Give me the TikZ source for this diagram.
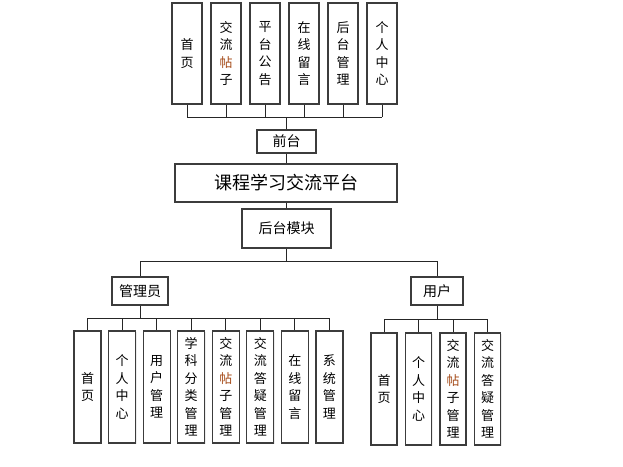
\documentclass[tikz,border=0pt]{standalone}
\usepackage{fontspec}
\setmainfont{Noto Sans CJK SC}
\usetikzlibrary{shadows}

\definecolor{boxline}{RGB}{60,60,60}
\definecolor{tiebrown}{RGB}{165,75,25}
\newcommand{\tiezi}{\textcolor{tiebrown}{帖}}

\tikzset{
  mod/.style={draw=boxline, line width=1.1pt, fill=white, inner sep=0pt, align=center,
    drop shadow={opacity=0.15, shadow xshift=1pt, shadow yshift=-1pt}},
  leaf/.style={mod, font=\fontsize{13}{17.5}\selectfont},
  wire/.style={line width=1pt, black!85}
}

\begin{document}
\begin{tikzpicture}[x=1pt,y=-1pt]
\useasboundingbox (0,0) rectangle (623,466);

% front modules
\foreach \i/\txt in {1/{首\\页},2/{交\\流\\\tiezi\\子},3/{平\\台\\公\\告},4/{在\\线\\留\\言},5/{后\\台\\管\\理},6/{个\\人\\中\\心}}
  \node[leaf, minimum width=30pt, minimum height=101pt] (f\i) at ({187+39*(\i-1)},53.5) {\txt};

\node[mod, font=\fontsize{14}{16}\selectfont, minimum width=59pt, minimum height=23pt] (front) at (286.5,141.5) {前台};
\node[mod, font=\fontsize{18}{20}\selectfont, minimum width=222pt, minimum height=38pt] (sys) at (286,183) {课程学习交流平台};
\node[mod, font=\fontsize{14}{16}\selectfont, minimum width=89pt, minimum height=39pt] (back) at (286.5,228.5) {后台模块};

\node[mod, font=\fontsize{14}{16}\selectfont, minimum width=56pt, minimum height=28pt] (admin) at (140,291) {管理员};
\node[mod, font=\fontsize{14}{16}\selectfont, minimum width=52pt, minimum height=28pt] (user) at (437,291) {用户};

% admin modules
\foreach \i/\txt in {1/{首\\页},2/{个\\人\\中\\心},3/{用\\户\\管\\理},4/{学\\科\\分\\类\\管\\理},5/{交\\流\\\tiezi\\子\\管\\理},6/{交\\流\\答\\疑\\管\\理},7/{在\\线\\留\\言},8/{系\\统\\管\\理}}
  \node[leaf, minimum width=27pt, minimum height=112pt] (a\i) at ({87.5+34.57*(\i-1)},387) {\txt};

% user modules
\foreach \i/\txt in {1/{首\\页},2/{个\\人\\中\\心},3/{交\\流\\\tiezi\\子\\管\\理},4/{交\\流\\答\\疑\\管\\理}}
  \node[leaf, minimum width=26pt, minimum height=112pt] (u\i) at ({384+34.5*(\i-1)},389) {\txt};

% connectors
\coordinate (fbus) at (286.5,117);
\draw[wire] (f1.south |- fbus) -- (f6.south |- fbus);
\foreach \i in {1,...,6}
  \draw[wire] (f\i.south) -- (f\i.south |- fbus);
\draw[wire] (fbus) -- (front.north);
\draw[wire] (front.south) -- (front.south |- sys.north);
\draw[wire] (sys.south) -- (sys.south |- back.north);

\draw[wire] (back.south) -- ++(0,13) coordinate (split);
\draw[wire] (admin.north) |- (split) -| (user.north);

\coordinate (abus) at (140,318);
\draw[wire] (admin.south) -- (abus);
\draw[wire] (a1.north |- abus) -- (a8.north |- abus);
\foreach \i in {1,...,8}
  \draw[wire] (a\i.north) -- (a\i.north |- abus);

\coordinate (ubus) at (437,319);
\draw[wire] (user.south) -- (ubus);
\draw[wire] (u1.north |- ubus) -- (u4.north |- ubus);
\foreach \i in {1,...,4}
  \draw[wire] (u\i.north) -- (u\i.north |- ubus);

\end{tikzpicture}
\end{document}
